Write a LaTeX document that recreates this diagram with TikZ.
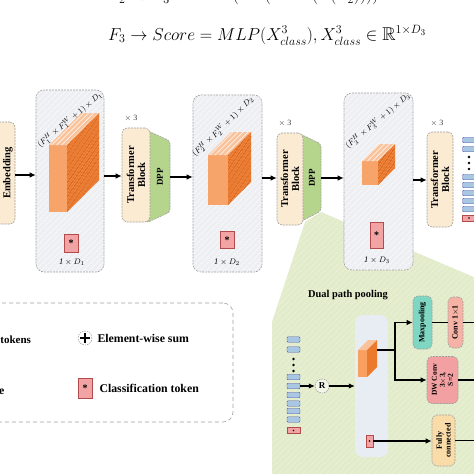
\documentclass[tikz,border=0pt]{standalone}
\usepackage{amsmath,amssymb}
\usepackage{fontspec}
\setmainfont{Liberation Serif}
\usetikzlibrary{arrows.meta,patterns.meta,calc}
\definecolor{panelgray}{HTML}{EEEFF3}
\definecolor{beigebox}{HTML}{FBEBD3}
\definecolor{dppgreen}{HTML}{B5D58C}
\definecolor{bggreen}{HTML}{E2ECCB}
\definecolor{orfront}{HTML}{F6A46A}
\definecolor{orside}{HTML}{EC7A2E}
\definecolor{orsidestripe}{HTML}{D2601A}
\definecolor{ortop}{HTML}{F9C29A}
\definecolor{tokpink}{HTML}{F2A3A3}
\definecolor{tokblue}{HTML}{A8C7E2}
\definecolor{mpteal}{HTML}{7FD6C2}
\definecolor{convpink}{HTML}{F5B2A5}
\definecolor{dwpink}{HTML}{F3A0A2}
\definecolor{fcpeach}{HTML}{FADCA8}
\definecolor{innerpanel}{HTML}{E8ECF3}
\newcommand\mycube[5]{%
  \fill[orfront] (#1,#2) rectangle ({#1+#3},{#2+#4});
  \fill[ortop] (#1,#2) -- ({#1+#3},#2) -- ({#1+#3+#5},{#2-#5}) -- ({#1+#5},{#2-#5}) -- cycle;
  \fill[pattern={Lines[angle=45,distance=3.5pt,line width=0.9pt]},pattern color=white!70!ortop] (#1,#2) -- ({#1+#3},#2) -- ({#1+#3+#5},{#2-#5}) -- ({#1+#5},{#2-#5}) -- cycle;
  \fill[orside] ({#1+#3},#2) -- ({#1+#3+#5},{#2-#5}) -- ({#1+#3+#5},{#2+#4-#5}) -- ({#1+#3},{#2+#4}) -- cycle;
  \fill[pattern={Lines[angle=55,distance=4pt,line width=1.2pt]},pattern color=orsidestripe] ({#1+#3},#2) -- ({#1+#3+#5},{#2-#5}) -- ({#1+#3+#5},{#2+#4-#5}) -- ({#1+#3},{#2+#4}) -- cycle;
}
\newcommand\myplaincube[5]{%
  \fill[orfront!90!orange] (#1,#2) rectangle ({#1+#3},{#2+#4});
  \fill[ortop] (#1,#2) -- ({#1+#3},#2) -- ({#1+#3+#5},{#2-#5}) -- ({#1+#5},{#2-#5}) -- cycle;
  \fill[orside] ({#1+#3},#2) -- ({#1+#3+#5},{#2-#5}) -- ({#1+#3+#5},{#2+#4-#5}) -- ({#1+#3},{#2+#4}) -- cycle;
}
\begin{document}
\begin{tikzpicture}[x=1pt,y=-1pt,
  box/.style={draw=gray!75, dashed, dash pattern=on 2pt off 1pt, line width=0.6pt, rounded corners=5pt, inner sep=0pt},
  panel/.style={box, fill=panelgray, rounded corners=8pt,
     postaction={pattern={Lines[angle=45,distance=4pt,line width=0.5pt]},pattern color=white}},
  beige/.style={box, fill=beigebox},
  arr/.style={-{Latex[length=6pt,width=5.5pt]}, line width=1.1pt},
  conn/.style={line width=1.1pt},
  rtext/.style={rotate=90, font=\bfseries\fontsize{10.5}{11}\selectfont, align=center},
  ctok/.style={draw=red!40!gray, fill=tokpink, line width=0.4pt, inner sep=0pt},
  btok/.style={draw=blue!30!gray, fill=tokblue, line width=0.4pt, rounded corners=1pt, minimum width=13pt, minimum height=5.5pt, inner sep=0pt},
  dotc/.style={circle, fill=black, inner sep=0pt, minimum size=2.6pt},
  plabel/.style={font=\fontsize{8.5}{9}\selectfont},
  times3/.style={font=\fontsize{8}{9}\selectfont, text=black!80},
  legtext/.style={font=\bfseries\fontsize{11.8}{13}\selectfont, anchor=west},
  small/.style={rotate=90, font=\bfseries\fontsize{8}{8.6}\selectfont, align=center}]
\useasboundingbox (0,0) rectangle (474,474);
\begin{scope}
\clip (0,0) rectangle (474,474);
% formulas
\node[anchor=base west, inner sep=0pt, font=\fontsize{18.5}{20}\selectfont] (eqa) at (108,0.5) {$F_2 \rightarrow F_3 = DPP(TB(DPP(T(F_2))))$};
\node[anchor=base west, inner sep=0pt, font=\fontsize{18.5}{20}\selectfont] (eqb) at (108,40) {$F_3 \rightarrow Score = MLP(X^3_{class}), X^3_{class}\in\mathbb{R}^{1\times D_3}$};

% green magnification region
\path[fill=bggreen, postaction={pattern={Lines[angle=45,distance=4pt,line width=0.6pt]},pattern color=white!40!bggreen}]
  (305,222) -- (272,322) -- (272,476) -- (476,476) -- (476,278) -- (321,212) -- cycle;

% top row
\node[beige, minimum width=28pt, minimum height=102pt] (emb) at (1,173) {};
\node[rtext] (embt) at (8,173) {Embedding};

\node[panel, minimum width=68pt, minimum height=182pt] (p1) at (70,181) {};
\mycube{49}{145}{18}{67}{32}
\node[plabel, rotate=40] (l1) at (70,120) {$(F_1^{H}\times F_1^{W}+1)\times D_1$};
\node[ctok, minimum width=14pt, minimum height=18pt] (t1) at (71,243) {\textbf{*}};
\node[plabel] (d1) at (72,262) {$\mathit{1}\times D_1$};

\path[draw=gray!75, dashed, dash pattern=on 2pt off 1pt, line width=0.6pt, fill=dppgreen, rounded corners=3pt]
  (146,130) -- (170,141) -- (170,212) -- (146,223) -- cycle;
\node[minimum width=22pt, minimum height=82pt, inner sep=0pt] (dpp1) at (159,177) {};
\node[beige, minimum width=28pt, minimum height=94pt] (tb1) at (136,175) {};
\node[rtext] (tb1t) at (136,175) {Transformer\\Block};
\node[small, font=\bfseries\fontsize{9}{9}\selectfont] (dpp1t) at (160,177) {DPP};
\node[times3] (x1) at (131,118) {$\times$ 3};

\node[panel, minimum width=69pt, minimum height=177pt] (p2) at (227.5,183.5) {};
\mycube{208}{155}{20}{50}{23}
\node[plabel, rotate=44] (l2) at (223,127) {$(F_2^{H}\times F_2^{W}+1)\times D_2$};
\node[ctok, minimum width=14pt, minimum height=17pt] (t2) at (227,240) {\textbf{*}};
\node[plabel] (d2) at (227,262) {$\mathit{1}\times D_2$};

\path[draw=gray!75, dashed, dash pattern=on 2pt off 1pt, line width=0.6pt, fill=dppgreen, rounded corners=3pt]
  (298,133) -- (321,144) -- (321,211) -- (298,223) -- cycle;
\node[minimum width=20pt, minimum height=80pt, inner sep=0pt] (dpp2) at (311,178) {};
\node[beige, minimum width=26pt, minimum height=92pt] (tb2) at (290,179) {};
\node[rtext] (tb2t) at (290,179) {Transformer\\Block};
\node[small, font=\bfseries\fontsize{9}{9}\selectfont] (dpp2t) at (312,178) {DPP};
\node[times3] (x2) at (285,123) {$\times$ 3};

\node[panel, minimum width=69pt, minimum height=177pt] (p3) at (378.5,181.5) {};
\mycube{362}{161}{16}{24}{17}
\node[plabel, rotate=40] (l3) at (378,121) {$(F_3^{H}\times F_3^{W}+1)\times D_3$};
\node[ctok, minimum width=13pt, minimum height=26pt] (t3) at (376.5,235) {\textbf{*}};
\node[plabel] (d3) at (377,260) {$\mathit{1}\times D_3$};

\node[beige, minimum width=26pt, minimum height=95pt] (tb3) at (440,179.5) {};
\node[rtext] (tb3t) at (440,179.5) {Transformer\\Block};
\node[times3] (x3) at (437,123) {$\times$ 3};

% right token column
\foreach \yy/\nm in {140/ra,149/rb,177/rc,185/rd,193/re,201/rf,209/rg}{
  \node[btok] (\nm) at (469,\yy) {};}
\foreach \yy/\nm in {157/rda,163/rdb,169/rdc}{\node[dotc] (\nm) at (469,\yy) {};}
\node[ctok, minimum width=13pt, minimum height=6pt] (rp) at (469,218) {};
\node[circle, fill=black, inner sep=0pt, minimum size=1.6pt] (rpd) at (469,218) {};

% top arrows
\draw[arr] (emb.east |- 0,175) -- (p1.west |- 0,175);
\draw[arr] (p1.east |- 0,176) -- (tb1.west |- 0,176);
\draw[arr] (dpp1.east |- 0,177) -- (p2.west |- 0,177);
\draw[arr] (p2.east |- 0,178) -- (tb2.west |- 0,178);
\draw[arr] (dpp2.east |- 0,178) -- (p3.west |- 0,178);
\draw[arr] (p3.east |- 0,180) -- (tb3.west |- 0,180);

% legend
\node[box, dash pattern=on 4pt off 3pt, minimum width=260pt, minimum height=119pt, rounded corners=10pt] (leg) at (103,362.5) {};
\node[legtext, anchor=east, font=\bfseries\fontsize{11}{12}\selectfont] (lg1) at (34.5,340) {tokens};
\node[legtext, anchor=east] (lg2) at (8,392) {e};
\node[circle, draw=gray, dashed, dash pattern=on 1.5pt off 1pt, minimum size=14pt, inner sep=0pt] (sum) at (85,338) {};
\draw[line width=1.6pt] ($(sum.center)+(-5,0)$) -- ($(sum.center)+(5,0)$);
\draw[line width=1.6pt] ($(sum.center)+(0,-5)$) -- ($(sum.center)+(0,5)$);
\node[legtext] (lg3) at (94,338) {Element-wise sum};
\node[ctok, minimum width=14pt, minimum height=20pt] (ctk) at (85,388) {\textbf{*}};
\node[legtext] (lg4) at (96,388) {Classification token};

% dual path pooling detail
\node[font=\bfseries\fontsize{10.4}{11}\selectfont] (dpt) at (348,295) {Dual path pooling};
\foreach \yy/\nm in {339.5/ba,349.5/bb,377/bc,386/bd,395/be,403.5/bf,411/bg,419.5/bh}{
  \node[btok] (\nm) at (293.5,\yy) {};}
\foreach \yy/\nm in {359/bda,365/bdb,371/bdc}{\node[dotc] (\nm) at (293.5,\yy) {};}
\node[ctok, minimum width=13pt, minimum height=6pt] (bp) at (293.5,430.5) {};
\node[circle, fill=black, inner sep=0pt, minimum size=1.6pt] (bpd) at (293.5,430.5) {};
\node[circle, draw=gray, dashed, dash pattern=on 1.5pt off 1pt, fill=white!60!bggreen, minimum size=14pt, inner sep=0pt, font=\bfseries\fontsize{9}{9}\selectfont] (r) at (322,386) {R};
\node[draw=none, fill=innerpanel, rounded corners=8pt, minimum width=33pt, minimum height=142pt, inner sep=0pt] (ip) at (371.5,386) {};
\myplaincube{358}{350}{9}{27}{10}
\coordinate (cubeout) at (377,350);
\coordinate (j) at (395,350);
\node[ctok, minimum width=7pt, minimum height=12pt] (it) at (369.5,441) {};
\node[circle, fill=black, inner sep=0pt, minimum size=1.6pt] (itd) at (369.5,441) {};

\node[box, fill=mpteal, minimum width=19pt, minimum height=53pt] (maxp) at (422.5,322.5) {};
\node[small] (maxpt) at (422.5,322.5) {Maxpooling};
\node[box, fill=convpink, minimum width=15pt, minimum height=51pt] (conv) at (455.5,322.5) {};
\node[small] (convt) at (455.5,322.5) {Conv 1$\times$1};
\node[box, fill=dwpink, minimum width=31pt, minimum height=47pt] (dw) at (442.5,380) {};
\node[small, font=\bfseries\fontsize{7.5}{8}\selectfont] (dwt) at (442.5,380) {DW Conv\\3$\times$3,\\S=2};
\node[box, fill=fcpeach, minimum width=23pt, minimum height=51pt] (fc) at (443.5,440.5) {};
\node[small] (fct) at (443.5,440.5) {Fully\\connected};
\coordinate (edge) at (476,0);

\draw[arr] (bd.east) -- (r.west);
\draw[arr] (r.east) -- (r.east -| ip.west);
\draw[conn] (cubeout) -- (j);
\draw[arr] ($(j)+(0,0.55)$) |- (maxp.west);
\draw[arr] ($(j)+(0,-0.55)$) |- (dw.west);
\draw[conn] (maxp.east) -- (conv.west);
\draw[conn] (conv.east) -- (conv.east -| edge);
\draw[conn] (dw.east) -- (dw.east -| edge);
\draw[arr] (it.east) -- (it.east -| fc.west);
\draw[conn] (fc.east) -- (fc.east -| edge);
\end{scope}
\end{tikzpicture}
\end{document}
